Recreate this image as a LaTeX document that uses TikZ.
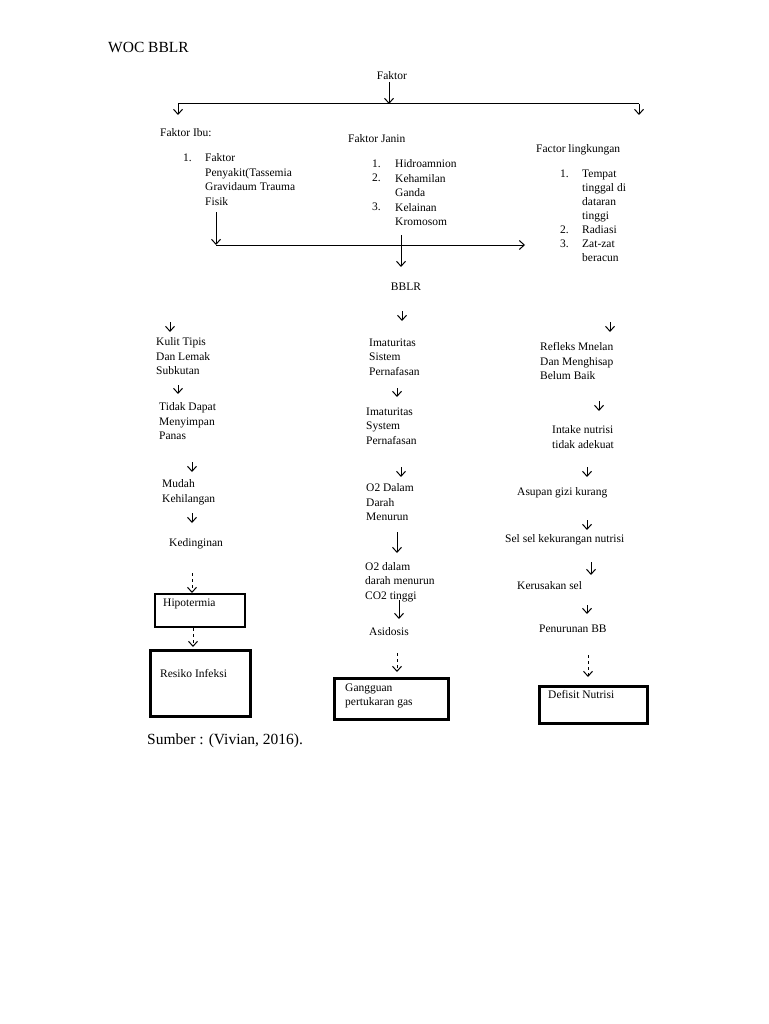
\documentclass[tikz,border=0pt]{standalone}
\usepackage{fontspec}
\setmainfont{Liberation Serif}
\usetikzlibrary{arrows.meta}

\tikzset{
  txt/.style={anchor=north west, inner sep=0pt, align=left, font=\fontsize{11.5}{14.5}\selectfont},
  big/.style={anchor=north west, inner sep=0pt, font=\fontsize{15.5}{18}\selectfont},
  arr/.style={line width=1pt, -{Straight Barb[length=5pt,width=9pt]}},
  darr/.style={arr, dash pattern=on 3pt off 3pt},
  box/.style={draw, anchor=north west, inner sep=0pt},
}

\begin{document}
\begin{tikzpicture}[x=1pt, y=-1pt]
\useasboundingbox[fill=white] (0,0) rectangle (768,1024);

% heading and factors
\node[big] (title) at (108,42.5) {WOC BBLR};
\node[txt, anchor=north] (faktor) at (392,71.5) {Faktor};
\node[txt] (ibu) at (160,128.5) {Faktor Ibu:};
\node[txt] (ibunum) at (183,153.5) {1.};
\node[txt] (ibulist) at (205,153.5) {Faktor\\Penyakit(Tassemia\\Gravidaum Trauma\\Fisik};
\node[txt] (janin) at (348,134) {Faktor Janin};
\node[txt] (janinnum) at (372,159.5) {1.\\2.\\[14.5pt]3.};
\node[txt] (janinlist) at (395,159.5) {Hidroamnion\\Kehamilan\\Ganda\\Kelainan\\Kromosom};
\node[txt] (lingk) at (536,144.5) {Factor lingkungan};
\node[txt, font=\fontsize{11.5}{14}\selectfont] (lingknum) at (560,169.5) {1.\\[42pt]2.\\3.};
\node[txt, font=\fontsize{11.5}{14}\selectfont] (lingklist) at (582,169.5) {Tempat\\tinggal di\\dataran\\tinggi\\Radiasi\\Zat-zat\\beracun};
\node[txt, anchor=north] (bblr) at (406,282.5) {BBLR};

% left column
\node[txt] (kulit) at (156,337.5) {Kulit Tipis\\Dan Lemak\\Subkutan};
\node[txt] (tidak) at (159,402.5) {Tidak Dapat\\Menyimpan\\Panas};
\node[txt] (mudah) at (162,479.5) {Mudah\\Kehilangan};
\node[txt] (dingin) at (169,538.5) {Kedinginan};
\node[box, line width=2pt, minimum width=90pt, minimum height=33pt] (hipo) at (154,593) {};
\node[txt] (hipotxt) at ([xshift=9pt,yshift=-5.5pt]hipo.north west) {Hipotermia};
\node[box, line width=3pt, minimum width=100pt, minimum height=66pt] (resiko) at (149,649) {};
\node[txt] (resikotxt) at ([xshift=11pt,yshift=-20.5pt]resiko.north west) {Resiko Infeksi};

% middle column
\node[txt] (imat1) at (369,338.5) {Imaturitas\\Sistem\\Pernafasan};
\node[txt] (imat2) at (366,407.5) {Imaturitas\\System\\Pernafasan};
\node[txt] (oksa) at (366,483.5) {O2 Dalam\\Darah\\Menurun};
\node[txt] (oksb) at (365,562) {O2 dalam\\darah menurun\\CO2 tinggi};
\node[txt] (asid) at (369,627.5) {Asidosis};
\node[box, line width=2.5pt, minimum width=114pt, minimum height=41pt] (gang) at (333,677) {};
\node[txt] (gangtxt) at ([xshift=12pt,yshift=-6.5pt]gang.north west) {Gangguan\\pertukaran gas};

% right column
\node[txt] (refleks) at (540,342.5) {Refleks Mnelan\\Dan Menghisap\\Belum Baik};
\node[txt] (intake) at (552,425.5) {Intake nutrisi\\tidak adekuat};
\node[txt] (asupan) at (517,487.5) {Asupan gizi kurang};
\node[txt] (selsel) at (505,534.5) {Sel sel kekurangan nutrisi};
\node[txt] (rusak) at (517,581.5) {Kerusakan sel};
\node[txt] (turun) at (539,624.5) {Penurunan BB};
\node[box, line width=2.5pt, minimum width=108pt, minimum height=37pt] (defisit) at (538,685) {};
\node[txt] (defisittxt) at ([xshift=10pt,yshift=-5.5pt]defisit.north west) {Defisit Nutrisi};

\node[big] (sumber) at (147,733.5) {Sumber : (Vivian, 2016).};

% branching lines
\coordinate (tl) at (178,104);
\coordinate (tm) at (389,104);
\coordinate (tr) at (639,104);
\draw[arr] ([yshift=-2pt]faktor.south -| tm) -- (tm);
\draw[line width=1pt] (tl) -- (tr);
\draw[arr] (tl) -- ++(0,11);
\draw[arr] (tr) -- ++(0,11);

\coordinate (bl) at (216,245);
\coordinate (br) at (525,245);
\coordinate (ja) at (401,235);
\coordinate (jb) at (401,267);
\draw[arr] ([yshift=-7pt]bl |- ibulist.south) -- (bl);
\draw[arr] (bl) -- (br);
\draw[arr] (ja) -- (jb);

% small arrows
\foreach \n/\x/\ya/\yb in {b1/402/311/321, l1/170/322/332, l2/178/385/394,
    l3/192/462/472, l4/192/513/523, m1/397/388/397, m2/401/467/477,
    m3/397/532/553, m4/399/600/619, r1/610/322/332, r2/599/401/411,
    r3/587/467/477, r4/587/520/530, r5/591/562/575, r6/587/605/614}{
  \coordinate (\n a) at (\x,\ya);
  \coordinate (\n b) at (\x,\yb);
  \draw[arr] (\n a) -- (\n b);
}

% dashed arrows
\foreach \n/\x/\ya/\yb in {m5/397/653/672, r7/588/655/677}{
  \coordinate (\n a) at (\x,\ya);
  \coordinate (\n b) at (\x,\yb);
  \draw[darr] (\n a) -- (\n b);
}
\coordinate (la) at (192,573);
\coordinate (lb) at (193,0);
\draw[darr] (la) -- (la |- hipo.north);
\draw[darr] (hipo.south -| lb) -- ([yshift=2pt]lb |- resiko.north);
\end{tikzpicture}
\end{document}
